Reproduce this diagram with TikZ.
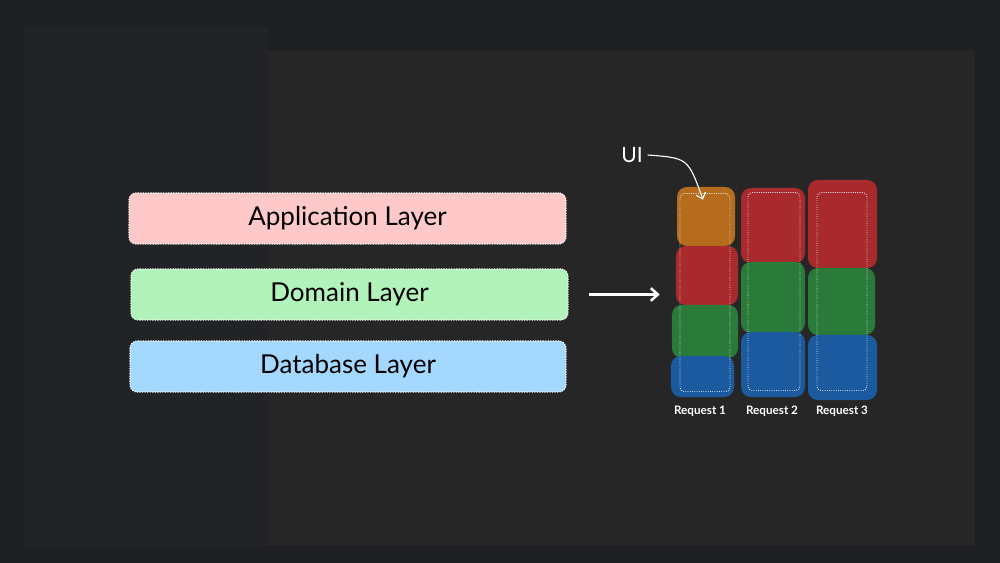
\documentclass[tikz,border=0pt]{standalone}
\usepackage{fontspec}
\setmainfont{Lato}
\usetikzlibrary{arrows.meta,calc}
\definecolor{bgmain}{RGB}{38,38,39}
\definecolor{bgbar}{RGB}{30,31,34}
\definecolor{bgside}{RGB}{34,35,38}
\definecolor{appfill}{RGB}{255,201,201}
\definecolor{domfill}{RGB}{178,242,187}
\definecolor{dbfill}{RGB}{165,216,255}
\definecolor{uiorange}{RGB}{181,108,28}
\definecolor{reqred}{RGB}{168,42,44}
\definecolor{reqgreen}{RGB}{42,122,58}
\definecolor{reqblue}{RGB}{28,90,160}

\begin{document}
\begin{tikzpicture}[x=0.025cm,y=-0.025cm,line width=.35pt,
  layer/.style={draw=white,densely dotted,line width=.8pt,rounded corners=5pt,
    minimum width=10.925cm,minimum height=1.275cm,font=\fontsize{18.5}{20}\selectfont,text=black},
  blk/.style={rounded corners=7pt,inner sep=0pt},
  colframe/.style={draw=white!90!black,densely dotted,line width=.6pt,rounded corners=3pt,
    minimum width=1.25cm,minimum height=4.95cm,inner sep=0pt},
  reqlabel/.style={text=white,font=\bfseries\fontsize{8.3}{10}\selectfont},
  whitearrow/.style={draw=white,-{Straight Barb[length=5pt,width=9pt]}}]
\useasboundingbox (0,0) rectangle (1000,563);
% blurred editor in the back
\fill[bgmain] (0,0) rectangle (1000,563);
\fill[bgside] (24,27) rectangle (268,545);
\fill[bgbar] (0,0) rectangle (1000,27);
\fill[bgbar] (268,27) rectangle (975,50);
\fill[bgbar] (0,27) rectangle (24,545);
\fill[bgbar] (975,27) rectangle (1000,545);
\fill[bgbar] (0,545) rectangle (1000,563);
% layers
\node[layer,fill=appfill] (app) at (347.5,218.5) {Application Layer};
\node[layer,fill=domfill] (dom) at (349.5,294.5) {Domain Layer};
\node[layer,fill=dbfill,minimum width=10.9cm] (db) at (348,366.5) {Database Layer};
% request 1
\node[blk,fill=uiorange,minimum width=1.45cm,minimum height=1.475cm] (r1ui) at (706,216.5) {};
\node[blk,fill=reqred,minimum width=1.55cm,minimum height=1.475cm] (r1red) at (707,275.5) {};
\node[blk,fill=reqgreen,minimum width=1.65cm,minimum height=1.325cm] (r1green) at (705,331.5) {};
\node[blk,fill=reqblue,minimum width=1.575cm,minimum height=1.025cm] (r1blue) at (702.5,376.5) {};
% request 2
\node[blk,fill=reqred,minimum width=1.6cm,minimum height=1.875cm] (r2red) at (773,225.5) {};
\node[blk,fill=reqgreen,minimum width=1.6cm,minimum height=1.775cm] (r2green) at (773,297.5) {};
\node[blk,fill=reqblue,minimum width=1.6cm,minimum height=1.625cm] (r2blue) at (773,364.5) {};
% request 3
\node[blk,fill=reqred,minimum width=1.725cm,minimum height=2.2cm] (r3red) at (842.5,224) {};
\node[blk,fill=reqgreen,minimum width=1.675cm,minimum height=1.675cm] (r3green) at (841.5,301.5) {};
\node[blk,fill=reqblue,minimum width=1.725cm,minimum height=1.625cm] (r3blue) at (842.5,367.5) {};
% dotted frames
\node[colframe] (c1) at (705,292.5) {};
\node[colframe,minimum width=1.3cm] (c2) at (774,291.5) {};
\node[colframe] (c3) at (842,291.5) {};
\node[reqlabel] (q1) at (700,411) {Request 1};
\node[reqlabel] (q2) at (772,411) {Request 2};
\node[reqlabel] (q3) at (842,411) {Request 3};
\node[text=white,font=\fontsize{15}{17}\selectfont] (ui) at (632,155) {UI};
% arrows
\draw[whitearrow,line width=1.8pt,shorten <=0.5cm,shorten >=0.4cm] (dom.east) -- (dom.east -| r1red.west);
\draw[whitearrow,line width=.8pt,-{Straight Barb[length=4pt,width=7pt]}] (ui.east) .. controls (688,158) .. ($(r1ui.north)+(-3,13)$);
\end{tikzpicture}
\end{document}
